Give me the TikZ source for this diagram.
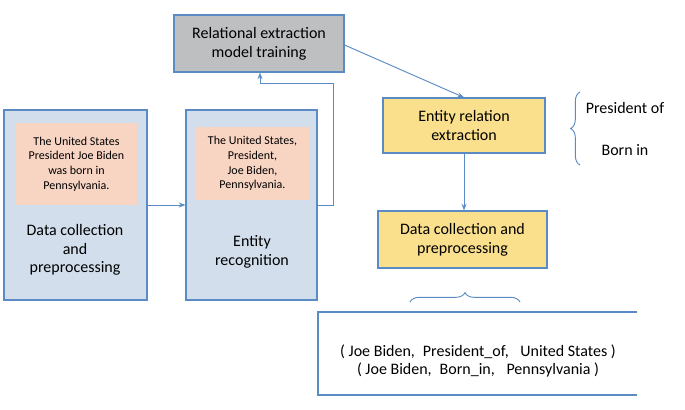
\documentclass[tikz,border=0pt]{standalone}
\usepackage{fontspec}
\setmainfont{Carlito}
\usetikzlibrary{arrows.meta,decorations.pathreplacing}
\definecolor{bl}{HTML}{5B8BC5}
\definecolor{bluefill}{HTML}{D2DEEC}
\definecolor{pinkfill}{HTML}{F8D5C3}
\definecolor{yel}{HTML}{FADF8C}
\definecolor{gr}{HTML}{BDBFC1}
\tikzset{
 box/.style={draw=bl,line width=0.8pt},
 arr/.style={draw=bl,line width=0.7pt,-{Stealth[length=5pt]}},
 brc/.style={draw=bl,line width=0.7pt,decorate,decoration={brace,amplitude=7pt}},
}
\begin{document}
\begin{tikzpicture}[x=0.75pt,y=-0.75pt]
\useasboundingbox (0,0) rectangle (685,410);
\node[box,fill=gr,minimum width=170*0.75pt,minimum height=57*0.75pt,align=center,font=\large] (top) at (259,43.5) {Relational extraction\\model training};
\node[box,fill=bluefill,minimum width=143*0.75pt,minimum height=190*0.75pt] (left) at (75.5,205) {};
\node[fill=pinkfill,minimum width=121*0.75pt,minimum height=82*0.75pt,align=center,font=\small,inner sep=1pt] (lp) at (76.5,164) {The United States\\President Joe Biden\\was born in\\Pennsylvania.};
\node[align=center,font=\large] (lt) at (75,250) {Data collection\\and\\preprocessing};
\node[box,fill=bluefill,minimum width=131*0.75pt,minimum height=190*0.75pt] (mid) at (251.5,205) {};
\node[fill=pinkfill,minimum width=113*0.75pt,minimum height=73*0.75pt,align=center,font=\small,inner sep=1pt] (mp) at (252.5,163.5) {The United States,\\President,\\Joe Biden,\\Pennsylvania.};
\node[align=center,font=\large] (mt) at (252,252) {Entity\\recognition};
\node[box,fill=yel,minimum width=162*0.75pt,minimum height=55*0.75pt,align=center,font=\large] (er) at (464,125.5) {Entity relation\\extraction};
\node[box,fill=yel,minimum width=169*0.75pt,minimum height=57*0.75pt,align=center,font=\large] (dc) at (462.5,239.5) {Data collection and\\preprocessing};
\node[font=\large] (p1) at (625,108) {President of};
\node[font=\large] (p2) at (625,150) {Born in};
\coordinate (b1) at (580,92); \coordinate (b2) at (580,165);
\draw[brc] (b2) -- (b1);
\coordinate (c1) at (410,302); \coordinate (c2) at (520,302);
\draw[brc] (c1) -- (c2);
\coordinate (o1) at (637,312); \coordinate (o2) at (637,395);
\draw[box] (o1) -- (318,312) -- (318,395) -- (o2);
\node[align=center,font=\large] (tr) at (478,361) {( Joe Biden,\enspace President\_of,\enspace\ United States )\\( Joe Biden,\enspace Born\_in,\enspace\ Pennsylvania )};
\draw[arr] (left.east |- 0,205) -- (mid.west |- 0,205);
\draw[arr] (mid.east |- 0,205) -- (333,205) -- (333,83) -- (260,83) -- (top.south -| 260,0);
\draw[arr] (top.east |- 0,45) -- (er.north);
\draw[arr] (er.south) -- (dc.north -| er.south);
\end{tikzpicture}
\end{document}
